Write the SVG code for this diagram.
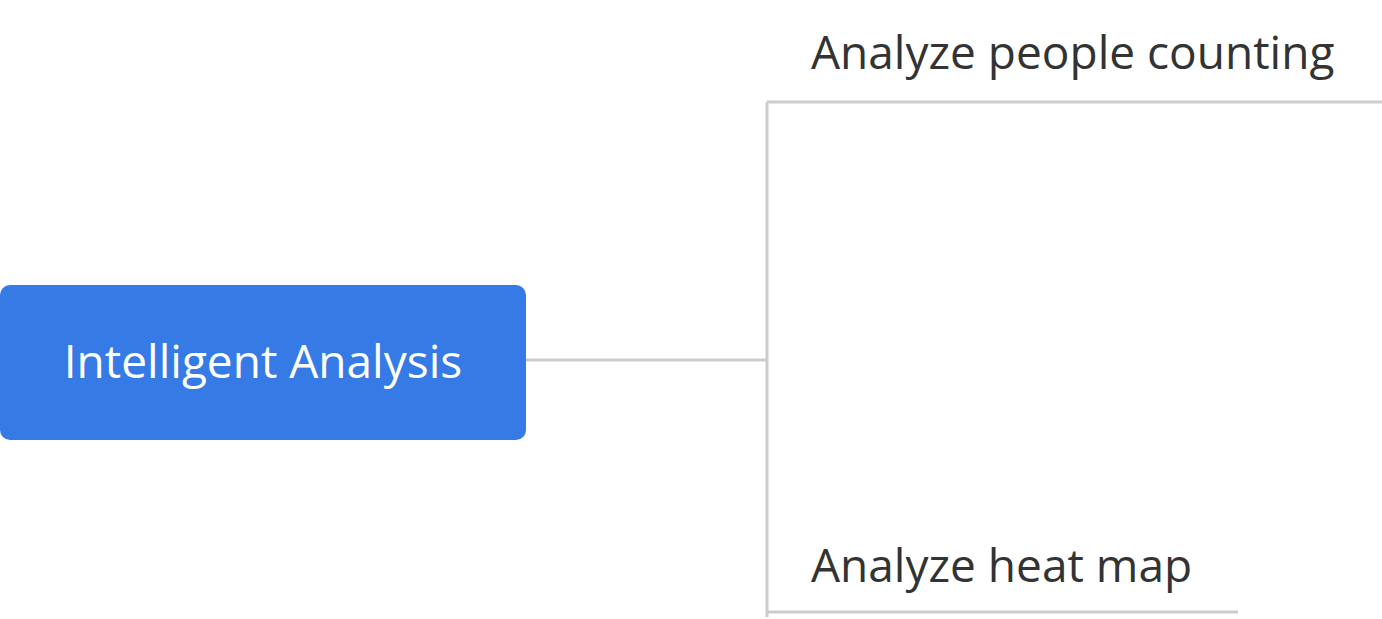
<svg xmlns="http://www.w3.org/2000/svg" width="1382" height="619" viewBox="0 0 1382 619">
<style>
.c{stroke:#cccccc;stroke-width:3;fill:none}
.t{font-family:"Open Sans",sans-serif;font-size:46px;fill:#333333}
</style>
<rect width="1382" height="619" fill="#ffffff"/>
<g id="connectors">
<path class="c" d="M526 360H767M767 102V617M767 102H1382M767 612H1238"/>
</g>
<g id="root">
<rect x="0" y="285" width="526" height="155" rx="10" fill="#367ae6"/>
<text x="263" y="378" text-anchor="middle" font-family="'Open Sans',sans-serif" font-size="46" fill="#ffffff">Intelligent Analysis</text>
</g>
<g id="n1"><text class="t" x="811" y="69">Analyze people counting</text></g>
<g id="n2"><text class="t" x="811" y="582">Analyze heat map</text></g>
</svg>
